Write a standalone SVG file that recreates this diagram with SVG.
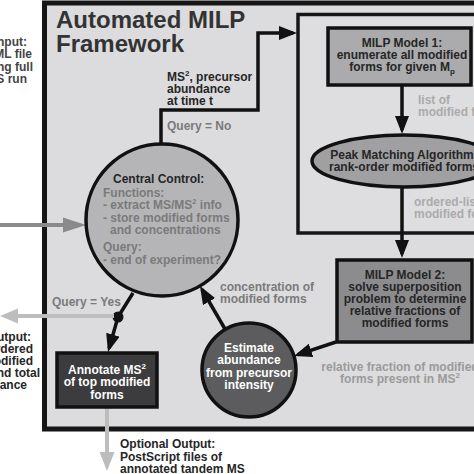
<svg xmlns="http://www.w3.org/2000/svg" width="474" height="474" viewBox="0 0 474 474">
<style>
text{font-family:"Liberation Sans",Arial,sans-serif;font-weight:bold;font-size:12px}
.dk{fill:#262626}
.title{font-size:24px;fill:#333}
.g1{fill:#7a7a7a}
.g2{fill:#9a9a9a}
.g3{fill:#ababab}
.w{fill:#fff}
.conn{fill:none;stroke:#111;stroke-width:3.5}
.node{stroke:#111;stroke-width:3.5}
</style>
<defs>
<marker id="ah" markerUnits="userSpaceOnUse" markerWidth="18" markerHeight="14" refX="14" refY="7" orient="auto">
<path d="M0,0 L18,7 L0,14 z" fill="#111"/>
</marker>
</defs>
<rect x="0" y="0" width="474" height="474" fill="#fff"/>
<g id="frame">
<rect x="44.5" y="3" width="440" height="426" fill="#dcdcde" stroke="#161616" stroke-width="5"/>
<rect x="298" y="14.5" width="190" height="218.5" fill="#dedee0" stroke="#161616" stroke-width="3.5"/>
<text class="title" x="56" y="28">Automated MILP</text>
<text class="title" x="56" y="52">Framework</text>
</g>
<g id="connectors">
<path class="conn" d="M161,146 V110 H258 V33 H293" marker-end="url(#ah)"/>
<path class="conn" d="M402,86 V130" marker-end="url(#ah)"/>
<path class="conn" d="M402,187 V254" marker-end="url(#ah)"/>
<path class="conn" d="M336,342 L297.8,354.7" marker-end="url(#ah)"/>
<path class="conn" d="M225,329 L202,289.5" marker-end="url(#ah)"/>
<path class="conn" d="M133,293 L118,317 L109.1,348.2" marker-end="url(#ah)"/>
<circle cx="118" cy="317" r="5.5" fill="#111"/>
<line x1="0" y1="225" x2="66" y2="225" stroke="#8a8a8a" stroke-width="4"/>
<polygon points="86,225 63,217.5 63,232.5" fill="#8a8a8a"/>
<line x1="114" y1="316" x2="16" y2="316" stroke="#bdbdbd" stroke-width="4"/>
<polygon points="0,316 18,308.5 18,323.5" fill="#bdbdbd"/>
<line x1="107" y1="408" x2="107" y2="453" stroke="#bdbdbd" stroke-width="4"/>
<polygon points="107,471 99.5,452 114.5,452" fill="#bdbdbd"/>
<text class="g1" x="167" y="130">Query = No</text>
<text class="dk" x="167" y="81">MS<tspan dy="-5" font-size="8">2</tspan><tspan dy="5">, precursor</tspan></text>
<text class="dk" x="167" y="93">abundance</text>
<text class="dk" x="167" y="105">at time t</text>
<text class="g3" x="418" y="104">list of</text>
<text class="g3" x="418" y="116">modified forms</text>
<text class="g3" x="414" y="206">ordered-list of</text>
<text class="g3" x="414" y="218">modified forms</text>
<text class="g2" x="400" y="371" text-anchor="middle">relative fraction of modified</text>
<text class="g2" x="400" y="383" text-anchor="middle">forms present in MS<tspan dy="-5" font-size="8">2</tspan></text>
<text class="g1" x="220" y="291">concentration of</text>
<text class="g1" x="220" y="303">modified forms</text>
<text class="g1" x="52" y="306">Query = Yes</text>
</g>
<g id="central-control">
<circle class="node" cx="162" cy="220" r="76" fill="#b5b5b7"/>
<text class="dk" x="113" y="183" font-size="13.5">Central Control:</text>
<text class="g1" x="103" y="197" font-size="11.5">Functions:</text>
<text class="g1" x="103" y="209" font-size="11.5">- extract MS/MS<tspan dy="-5" font-size="7.5">2</tspan><tspan dy="5"> info</tspan></text>
<text class="g1" x="103" y="222" font-size="11.5">- store modified forms</text>
<text class="g1" x="103" y="234" font-size="11.5">  <tspan x="110">and concentrations</tspan></text>
<text class="g1" x="103" y="251" font-size="11.5">Query:</text>
<text class="g1" x="103" y="264" font-size="11.5">- end of experiment?</text>
</g>
<g id="milp1">
<rect class="node" x="328" y="28" width="143" height="57" fill="#ababad"/>
<text class="dk" x="402" y="47" text-anchor="middle">MILP Model 1:</text>
<text class="dk" x="402" y="59" text-anchor="middle">enumerate all modified</text>
<text class="dk" x="402" y="71" text-anchor="middle">forms for given M<tspan dy="3" font-size="8">p</tspan></text>
</g>
<g id="peak-matching">
<ellipse class="node" cx="404" cy="161" rx="92" ry="26" fill="#a0a0a2"/>
<text class="dk" x="404" y="159" text-anchor="middle">Peak Matching Algorithm:</text>
<text class="dk" x="404" y="171" text-anchor="middle">rank-order modified forms</text>
</g>
<g id="milp2">
<rect class="node" x="337" y="260" width="135" height="82" fill="#8c8c8e"/>
<text class="dk" x="405" y="279" text-anchor="middle">MILP Model 2:</text>
<text class="dk" x="405" y="291" text-anchor="middle">solve superposition</text>
<text class="dk" x="405" y="303" text-anchor="middle">problem to determine</text>
<text class="dk" x="405" y="315" text-anchor="middle">relative fractions of</text>
<text class="dk" x="405" y="327" text-anchor="middle">modified forms</text>
</g>
<g id="estimate">
<circle class="node" cx="249" cy="370" r="47" fill="#5c5c5e"/>
<text class="w" x="249" y="352" text-anchor="middle">Estimate</text>
<text class="w" x="249" y="364" text-anchor="middle">abundance</text>
<text class="w" x="249" y="377" text-anchor="middle">from precursor</text>
<text class="w" x="249" y="389" text-anchor="middle">intensity</text>
</g>
<g id="annotate">
<rect class="node" x="57" y="353" width="100" height="54" fill="#3c3c3e"/>
<text class="w" x="107" y="374" text-anchor="middle">Annotate MS<tspan dy="-5" font-size="8">2</tspan></text>
<text class="w" x="107" y="386" text-anchor="middle">of top modified</text>
<text class="w" x="107" y="399" text-anchor="middle">forms</text>
</g>
<g id="io-labels">
<text fill="#444" x="27" y="46" text-anchor="end">Input:</text>
<text fill="#444" x="32" y="58" text-anchor="end">mzXML file</text>
<text fill="#444" x="33" y="71" text-anchor="end">containing full</text>
<text fill="#444" x="27" y="83" text-anchor="end">MS run</text>
<text class="dk" x="31" y="341" text-anchor="end">Output:</text>
<text class="dk" x="33" y="353" text-anchor="end">rank-ordered</text>
<text class="dk" x="33" y="365" text-anchor="end">modified</text>
<text class="dk" x="40" y="377" text-anchor="end">forms and total</text>
<text class="dk" x="27" y="389" text-anchor="end">abundance</text>
<text class="dk" x="120" y="448">Optional Output:</text>
<text class="dk" x="120" y="461">PostScript files of</text>
<text class="dk" x="120" y="473">annotated tandem MS</text>
</g>
</svg>
